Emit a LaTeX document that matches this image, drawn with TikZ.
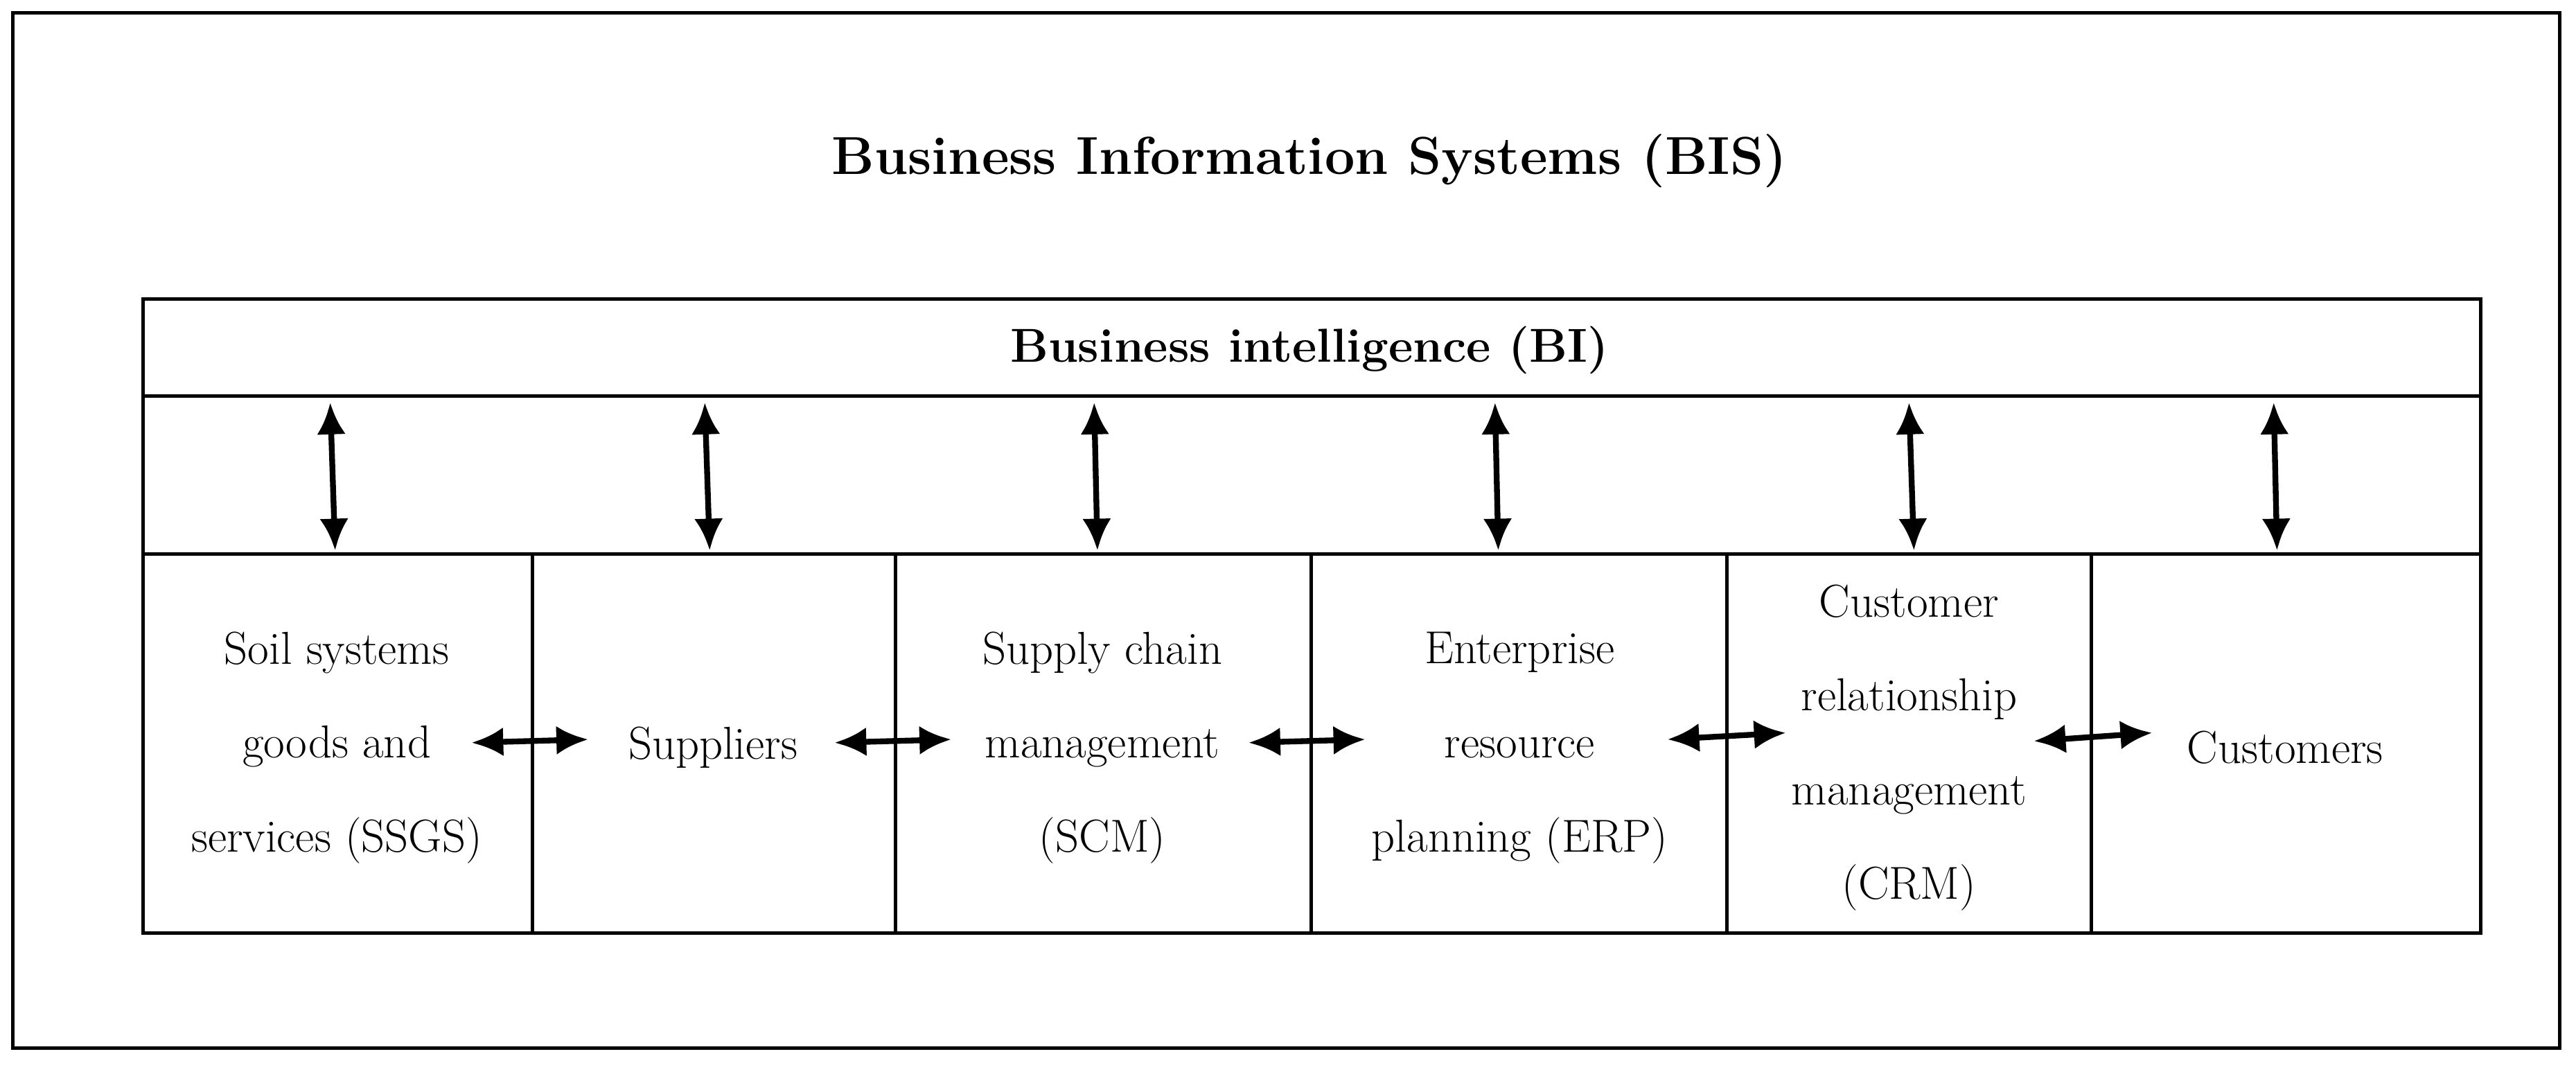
\documentclass[tikz,border=0pt]{standalone}
\usetikzlibrary{arrows.meta}
\begin{document}
\begin{tikzpicture}[x=0.02cm,y=-0.02cm,
  box/.style={draw,line width=1.2pt},
  lbl/.style={align=center,font=\fontsize{16}{32.6}\selectfont},
  dbl/.style={{Latex[length=11pt,width=10pt]}-{Latex[length=11pt,width=10pt]},line width=2pt}]
\useasboundingbox (0,0) rectangle (1568,652);
\draw[box] (8,8) rectangle (1558,638);
\draw[box] (87,182) rectangle (1510,568);
\draw[box] (87,241) -- (1510,241);
\draw[box] (87,337) -- (1510,337);
\foreach \x in {324,545,798,1051,1273} \draw[box] (\x,337) -- (\x,568);
\node[font=\fontsize{18.5}{22}\bfseries\selectfont] (title) at (797,98) {Business Information Systems (BIS)};
\node[font=\fontsize{16.5}{20}\bfseries\selectfont] (bi) at (797,213) {Business intelligence (BI)};
\node[lbl] (ssgs) at (205,455) {Soil systems\\goods and\\services (SSGS)};
\node[lbl] (sup) at (434,455) {Suppliers};
\node[lbl] (scm) at (671,455) {Supply chain\\management\\(SCM)};
\node[lbl] (erp) at (925,455) {Enterprise\\resource\\planning (ERP)};
\node[lbl] (crm) at (1162,455) {Customer\\relationship\\management\\(CRM)};
\node[lbl] (cus) at (1391,455) {Customers};
\foreach \a/\b/\n in {201/204/1,429/432/2,666/668/3,910/912/4,1162/1165/5,1384/1386/6}{
  \coordinate (t\n) at (\a,245); \coordinate (b\n) at (\b,335);
  \draw[dbl] (t\n) -- (b\n);}
\foreach \a/\b/\ya/\yb/\n in {287/358/452/450/1,508/579/452/450/2,760/831/452/450/3,1015/1087/450/446/4,1238/1310/451/446/5}{
  \coordinate (l\n) at (\a,\ya); \coordinate (r\n) at (\b,\yb);
  \draw[dbl] (l\n) -- (r\n);}
\end{tikzpicture}
\end{document}
